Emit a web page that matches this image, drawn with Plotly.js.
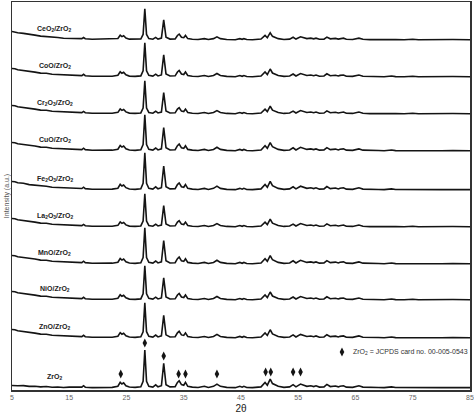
<!DOCTYPE html>
<html>
<head>
<meta charset="utf-8">
<script src="https://cdn.plot.ly/plotly-3.0.1.min.js"></script>
<style>html,body{margin:0;padding:0;background:#fff;}#chart{width:474px;height:416px;}</style>
</head>
<body>
<div id="chart"></div>
<script>
// Sample names (top to bottom)
const samples = ['CeO<sub>2</sub>/ZrO<sub>2</sub>', 'CoO/ZrO<sub>2</sub>', 'Cr<sub>2</sub>O<sub>3</sub>/ZrO<sub>2</sub>',
  'CuO/ZrO<sub>2</sub>', 'Fe<sub>2</sub>O<sub>3</sub>/ZrO<sub>2</sub>', 'La<sub>2</sub>O<sub>3</sub>/ZrO<sub>2</sub>',
  'MnO/ZrO<sub>2</sub>', 'NiO/ZrO<sub>2</sub>', 'ZnO/ZrO<sub>2</sub>', 'ZrO<sub>2</sub>'];
// Vertical stacking offsets (a.u.)
const offsets = [350, 313, 276, 239, 200, 163, 126, 90, 52, 2];
// Height of the main (28.2°) reflection per sample (a.u.)
const mainPeak = [31, 34, 33, 36, 37, 33, 36, 34, 35, 38];
// Low-angle background amplitude per sample
const bgAmp = [1, 1, 1, 1, 1, 1, 1, 1, 1, 0.3];

// Common diffraction profile
const twoTheta = [5,5.5,6,7,8,9,10,11,12,13,14,15,16,17.2,17.5,17.8,19,20,21,22.5,23.5,23.9,24.2,24.5,24.9,25.5,26.5,27.5,27.9,28.2,28.5,28.9,29.6,30.1,30.5,31.1,31.5,31.9,32.6,33.5,33.9,34.2,34.6,35.0,35.3,35.7,36.5,37.5,38.6,39.3,40.2,40.8,41.4,42.5,44,44.8,45.2,45.5,46,47,48.5,49.2,49.6,50.1,50.5,50.9,51.5,52.5,53.5,54.1,54.6,55.4,55.9,56.5,57.2,57.7,58.1,58.7,59.5,60.0,60.6,61.5,62.0,62.3,62.9,63.4,64.5,65.6,66.3,67.5,69,70,71.3,72,73.5,75,76,78,80,82,85];
const profile  = [0,0.3,0,0.4,0,0.3,0,0.4,0,0.3,0,0.4,0.3,0.5,1.8,0.5,0.2,0.4,0.4,0.5,1.5,5,3.5,4.5,2,0.8,0.5,1,6,34,6,1.5,0.8,2.8,1,2,22,3,1,1.2,5,6.5,3,2.5,5,1.5,0.8,0.5,1.5,0.5,1.5,3.5,1.5,0.6,0.3,1.5,0.7,1.5,0.5,0.3,1,5,2.5,8,4,3,1.5,0.6,1,3,1,3.5,2.5,1.5,2,1.3,2,0.8,1,3.2,1.3,1.8,1,1.6,2,0.8,0.6,2,0.8,0.4,0.5,0.3,1,0.4,0.3,0.8,0.3,0.5,0.3,0.5,0.3];
const background = [8.5,8,7.3,6.3,5.4,4.6,3.9,3.3,2.7,2.2,1.8,1.5,1.2,0.9,0.85,0.8,0.6,0.5,0.4,0.3,0.2,0.2,0.2,0.15,0.15,0.1,0.1,0.1,0.1,0.1,0.1,0.1,0.05,0.05,0.05,0.05,0.05,0.05,0,0,0,0,0,0,0,0,0,0,0,0,0,0,0,0,0,0,0,0,0,0,0,0,0,0,0,0,0,0,0,0,0,0,0,0,0,0,0,0,0,0,0,0,0,0,0,0,0,0,0,0,0,0,0,0,0,0,0,0,0,0,0];

// ZrO2 reference reflections (JCPDS 00-005-0543) marker positions
const refTheta = [24.0, 28.2, 31.5, 34.1, 35.3, 40.8, 49.3, 50.2, 54.1, 55.4];
const refLevel = [16, 47, 34, 16, 16, 16, 18, 18, 18, 18];

const xTicks = [5, 15, 25, 35, 45, 55, 65, 75, 85];

const profMax = Math.max(...profile);
const traces = samples.map((s, i) => ({
  type: 'scatter', mode: 'lines', name: s, showlegend: false,
  x: twoTheta,
  y: twoTheta.map((t, j) => offsets[i] + bgAmp[i] * background[j] + mainPeak[i] / profMax * profile[j]),
  line: {color: '#141414', width: 1.6, shape: 'linear'},
  hoverinfo: 'skip'
}));
traces.push({
  type: 'scatter', mode: 'markers', showlegend: false,
  x: refTheta, y: refLevel,
  marker: {symbol: 'diamond-tall', size: 6.5, color: '#141414'}
});

const annotations = samples.map((s, i) => ({
  x: 12.5, y: offsets[i], xref: 'x', yref: 'y', yshift: 11,
  text: s, showarrow: false, xanchor: 'center', yanchor: 'middle',
  font: {family: 'Liberation Sans, Arial, sans-serif', size: 7, color: '#222', weight: 'bold'}
}));
annotations.push({
  x: 0.740, y: 0.098, xref: 'paper', yref: 'paper', xanchor: 'left', yanchor: 'middle',
  text: 'ZrO<sub>2</sub> = JCPDS card no. 00-005-0543', showarrow: false,
  font: {family: 'Liberation Sans, Arial, sans-serif', size: 7, color: '#333'}
});

const layout = {
  width: 474, height: 416,
  margin: {l: 12, r: 4, t: 2, b: 26},
  paper_bgcolor: '#fff', plot_bgcolor: '#fff',
  showlegend: false,
  xaxis: {
    range: [5, 85], tickvals: xTicks, ticktext: xTicks.map(String),
    showgrid: false, zeroline: false, ticks: '',
    showline: true, mirror: true, linecolor: '#333', linewidth: 1.5,
    tickfont: {family: 'Liberation Sans, Arial, sans-serif', size: 7, color: '#666'},
    title: {text: '2θ', standoff: 5, font: {family: 'Liberation Sans, Arial, sans-serif', size: 10, color: '#222'}}
  },
  yaxis: {
    range: [0, 388], showticklabels: false, showgrid: false, zeroline: false, ticks: '',
    showline: true, mirror: true, linecolor: '#333', linewidth: 1.5,
    title: {text: 'Intensity (a.u.)', standoff: 0, font: {family: 'Liberation Sans, Arial, sans-serif', size: 7, color: '#555'}}
  },
  annotations: annotations,
  shapes: [{
    type: 'path', xref: 'paper', yref: 'paper', xsizemode: 'pixel', ysizemode: 'pixel',
    xanchor: 0.7205, yanchor: 0.098,
    path: 'M0,4.5 L2.3,0 L0,-4.5 L-2.3,0 Z',
    fillcolor: '#141414', line: {width: 0}
  }]
};

Plotly.newPlot('chart', traces, layout, {staticPlot: true, displayModeBar: false});
</script>
</body>
</html>
